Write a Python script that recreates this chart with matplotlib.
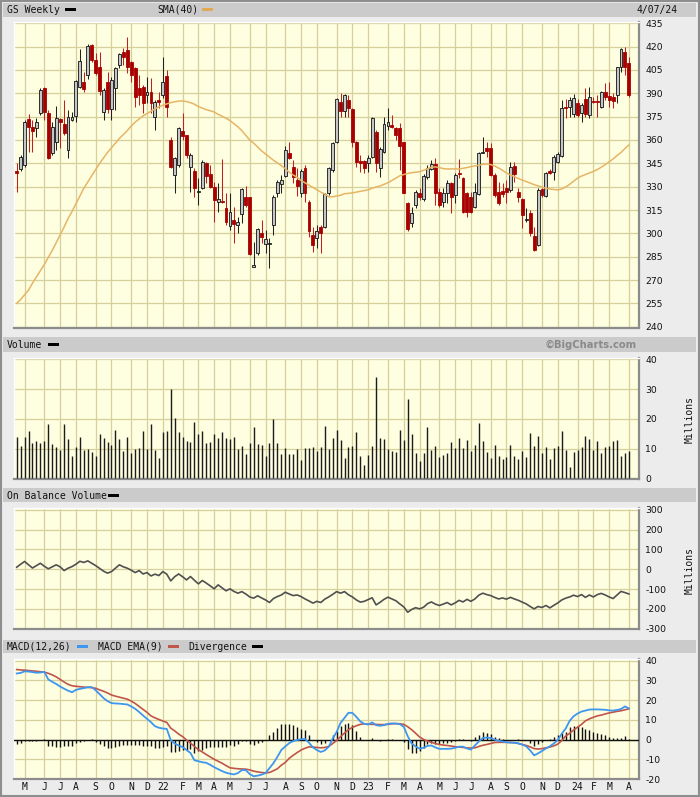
import numpy as np
import pandas as pd
import matplotlib
matplotlib.use("Agg")
import matplotlib.pyplot as plt
from matplotlib.patches import Rectangle

plt.rcParams["axes.unicode_minus"] = False

# ---------------- data ----------------
first_week = "2021-04-12"
opens = [340.3, 341.4, 343.9, 373.7, 368.1, 367.5, 377.6, 393.2, 377.6, 351.9,
         358.9, 373.3, 370.3, 353.6, 372.9, 375.4, 394.3, 397.0, 401.8, 421.1,
         411.4, 407.1, 378.2, 397.5, 379.7, 393.2, 408.2, 416.8, 417.9, 410.4,
         406.1, 393.2, 394.3, 388.9, 391.1, 375.0, 385.7, 388.9, 401.1, 360.0,
         337.5, 343.9, 366.0, 363.2, 342.9, 340.3, 326.8, 329.0, 345.4, 338.1,
         330.0, 320.4, 320.4, 316.1, 304.7, 308.6, 305.4, 312.2, 323.6, 323.1,
         278.6, 287.1, 300.4, 293.1, 293.1, 305.4, 325.7, 331.7, 336.9, 351.4,
         342.9, 334.3, 325.7, 342.2, 320.4, 298.9, 296.8, 304.3, 303.9, 325.7,
         340.7, 358.9, 384.6, 378.9, 385.7, 379.7, 358.9, 346.7, 346.7, 345.4,
         349.3, 365.4, 341.8, 352.5, 369.0, 369.6, 367.5, 367.9, 358.5, 319.3,
         306.4, 318.2, 326.1, 321.9, 336.0, 341.4, 344.6, 326.8, 320.4, 325.7,
         332.1, 324.6, 339.0, 335.4, 326.1, 323.6, 317.1, 325.3, 351.9, 354.9,
         354.6, 337.5, 326.8, 327.4, 328.9, 327.9, 343.0, 326.8, 321.9, 308.6,
         313.3, 298.3, 292.5, 328.3, 324.0, 340.3, 339.2, 346.1, 349.7, 381.4,
         381.0, 376.7, 384.0, 377.6, 386.1, 376.1, 385.1, 385.1, 381.0, 391.1,
         388.3, 387.4, 388.9, 407.1, 416.8, 409.7]
highs = [345.0, 350.4, 372.9, 376.5, 372.9, 374.0, 393.2, 394.3, 379.3, 371.8,
         381.9, 373.9, 385.7, 379.3, 378.2, 398.6, 418.3, 404.0, 421.7, 421.7,
         415.7, 416.8, 393.2, 403.9, 400.7, 407.1, 416.1, 418.9, 426.4, 411.0,
         407.1, 401.8, 395.4, 400.7, 399.6, 385.7, 391.1, 413.6, 405.0, 362.1,
         349.3, 368.6, 377.1, 363.5, 351.4, 341.8, 335.4, 347.1, 346.0, 343.9,
         333.2, 332.6, 347.6, 325.7, 325.7, 317.1, 310.7, 328.9, 330.4, 323.6,
         294.6, 303.2, 308.6, 302.1, 296.8, 324.6, 334.3, 337.5, 356.1, 358.5,
         347.1, 341.8, 341.4, 343.9, 321.4, 304.3, 305.4, 305.4, 325.7, 342.9,
         358.9, 386.8, 390.0, 389.6, 388.9, 380.4, 359.2, 350.4, 347.1, 350.4,
         375.0, 366.4, 355.7, 375.0, 380.4, 376.1, 368.6, 370.7, 358.8, 320.4,
         317.1, 327.9, 328.9, 338.1, 343.9, 347.1, 348.2, 328.9, 328.9, 334.3,
         333.2, 338.6, 347.6, 336.4, 326.8, 326.8, 332.6, 352.5, 361.7, 358.9,
         357.9, 338.6, 333.2, 332.1, 334.3, 346.1, 346.0, 328.9, 322.5, 316.1,
         315.0, 303.9, 328.9, 328.9, 339.6, 341.1, 350.4, 352.5, 385.7, 386.1,
         387.9, 389.6, 386.1, 383.6, 393.2, 394.3, 387.9, 388.9, 391.7, 396.4,
         397.5, 390.0, 407.1, 418.9, 419.6, 413.6]
lows = [326.8, 340.3, 342.9, 352.5, 352.5, 361.7, 376.1, 372.9, 347.5, 350.4,
        353.6, 355.1, 363.2, 348.2, 372.2, 371.8, 393.2, 391.0, 399.0, 410.4,
        401.8, 388.9, 372.9, 377.1, 372.9, 379.3, 406.1, 408.2, 402.9, 397.5,
        381.4, 382.5, 377.1, 383.6, 377.1, 366.4, 380.4, 386.8, 375.0, 341.8,
        325.7, 342.9, 360.0, 348.2, 326.8, 323.6, 318.2, 328.5, 332.1, 329.0,
        307.5, 313.9, 319.3, 305.4, 302.1, 293.6, 300.0, 306.4, 317.1, 286.1,
        278.1, 286.1, 294.0, 287.1, 277.5, 298.9, 323.1, 326.1, 336.4, 348.0,
        332.1, 324.0, 323.1, 320.4, 297.9, 288.2, 290.3, 287.1, 303.2, 324.6,
        339.6, 357.9, 375.0, 375.0, 375.0, 355.7, 342.9, 339.6, 339.0, 339.6,
        348.2, 339.6, 336.0, 351.9, 366.4, 367.5, 360.0, 340.7, 325.7, 301.7,
        304.3, 316.1, 321.4, 321.0, 334.7, 340.8, 318.2, 317.1, 317.1, 319.7,
        313.3, 319.3, 335.4, 312.9, 310.7, 312.9, 316.1, 324.6, 351.4, 349.3,
        336.9, 323.6, 318.2, 323.6, 319.3, 326.8, 333.0, 320.4, 303.2, 307.5,
        298.3, 288.9, 291.9, 323.6, 323.6, 337.9, 334.3, 345.0, 348.9, 373.9,
        375.0, 374.6, 374.6, 371.8, 375.0, 373.9, 383.6, 375.0, 380.4, 385.7,
        381.0, 380.4, 383.6, 403.9, 401.8, 387.4]
closes = [339.0, 348.9, 371.4, 368.6, 366.0, 371.8, 392.1, 378.2, 348.2, 368.6,
          373.9, 371.8, 364.3, 374.6, 375.0, 398.1, 411.0, 393.0, 420.4, 411.4,
          402.9, 391.7, 392.1, 379.7, 398.6, 406.1, 415.1, 413.6, 407.1, 401.8,
          387.9, 388.9, 383.6, 391.1, 383.6, 384.6, 384.6, 397.5, 381.0, 342.9,
          348.2, 367.5, 362.6, 350.4, 350.4, 329.0, 327.4, 346.1, 336.9, 329.6,
          321.4, 321.9, 319.9, 307.5, 313.5, 306.0, 307.1, 328.5, 318.2, 286.7,
          279.4, 302.6, 297.9, 296.1, 293.6, 323.6, 332.8, 334.3, 353.6, 348.2,
          336.4, 330.6, 340.3, 326.1, 301.7, 292.5, 301.5, 300.0, 325.3, 341.8,
          357.9, 386.1, 378.9, 388.7, 380.4, 358.9, 346.1, 345.4, 341.8, 348.2,
          374.4, 345.4, 354.0, 370.1, 371.8, 368.6, 363.2, 356.4, 326.1, 302.6,
          312.9, 326.8, 323.6, 336.9, 341.8, 344.6, 326.1, 318.2, 325.7, 332.1,
          323.1, 337.5, 338.1, 313.9, 313.9, 313.9, 326.8, 351.4, 352.5, 353.1,
          337.5, 324.6, 319.3, 325.3, 326.8, 342.9, 338.0, 323.6, 311.8, 309.2,
          300.0, 289.3, 327.9, 324.6, 339.0, 339.0, 349.3, 350.8, 380.4, 380.4,
          385.7, 386.8, 376.1, 382.5, 376.7, 387.9, 384.4, 384.4, 391.1, 387.4,
          385.7, 385.3, 406.7, 418.3, 407.1, 388.9]
volume_m = [13.8, 10.9, 13.8, 15.9, 11.8, 12.5, 11.8, 12.5, 18.3, 11.4,
            10.4, 9.5, 18.3, 13.1, 7.5, 10.4, 13.8, 9.5, 9.9, 8.7,
            7.5, 14.8, 13.4, 12.1, 11.2, 16.2, 13.1, 9.2, 14.0, 8.4,
            9.9, 10.1, 16.0, 9.9, 18.3, 9.5, 6.8, 15.7, 16.0, 29.9,
            20.2, 15.4, 13.8, 12.5, 12.1, 18.9, 15.0, 16.0, 11.8, 12.1,
            15.0, 13.4, 15.4, 13.4, 13.1, 13.8, 9.9, 10.9, 8.2, 11.8,
            17.4, 11.4, 11.1, 7.5, 11.8, 19.9, 11.8, 8.2, 10.1, 8.2,
            8.2, 9.9, 6.2, 10.1, 10.1, 10.4, 9.2, 10.4, 17.7, 9.9,
            13.4, 16.2, 12.9, 6.8, 10.4, 10.9, 15.5, 7.5, 4.4, 7.8,
            10.9, 33.9, 13.4, 13.1, 9.9, 9.2, 8.7, 16.1, 12.9, 26.6,
            14.8, 8.4, 5.9, 8.4, 17.4, 9.5, 10.9, 7.2, 7.8, 8.4,
            12.1, 10.2, 13.4, 10.2, 12.9, 9.2, 11.2, 18.7, 12.5, 8.9,
            6.8, 11.1, 7.5, 6.6, 7.2, 11.1, 7.5, 6.6, 9.2, 7.2,
            15.1, 10.9, 14.2, 8.5, 10.4, 6.6, 10.2, 10.9, 15.8, 9.5,
            3.9, 8.9, 9.5, 10.4, 14.1, 13.2, 9.5, 12.4, 8.5, 10.5,
            10.9, 12.4, 12.8, 7.5, 8.5, 9.2]
obv_m = [10, 25, 39, 22, 6, 18, 30, 15, 2, 12,
         22, 12, -7, 5, 13, 25, 40, 34, 42, 30,
         18, 4, -10, -20, -12, 5, 22, 12, 5, -5,
         -17, -7, -24, -17, -34, -25, -32, -12, -25, -59,
         -38, -24, -38, -54, -37, -56, -74, -57, -70, -84,
         -99, -79, -94, -109, -99, -112, -121, -113, -125, -140,
         -146, -134, -145, -155, -168, -148, -138, -130, -116, -125,
         -133, -130, -138, -150, -160, -171, -162, -168, -151, -140,
         -127, -113, -121, -113, -129, -140, -155, -166, -162, -153,
         -144, -180, -167, -152, -141, -150, -159, -175, -190, -217,
         -203, -194, -200, -192, -174, -165, -176, -183, -176, -168,
         -180, -170, -157, -165, -152, -162, -150, -131, -121, -128,
         -133, -142, -150, -145, -151, -142, -150, -157, -166, -175,
         -188, -200, -188, -193, -183, -195, -182, -170, -155, -146,
         -140, -131, -138, -128, -142, -130, -140, -128, -122, -130,
         -140, -148, -130, -112, -118, -125]
sma40 = [255.0, 257.5, 260.5, 263.5, 268.0, 272.0, 276.0, 280.0, 284.5, 289.0,
         294.0, 299.0, 304.0, 309.5, 314.0, 319.0, 324.0, 329.0, 333.0, 337.0,
         341.0, 345.0, 348.5, 352.0, 355.0, 358.0, 361.0, 363.5, 366.0, 369.0,
         371.5, 373.5, 375.5, 377.0, 378.5, 380.0, 381.3, 382.3, 383.2, 384.0,
         384.6, 385.0, 385.1, 384.7, 384.0, 383.0, 381.5, 380.5, 379.5, 378.8,
         378.0, 376.5, 375.3, 374.0, 372.5, 370.5, 368.5, 366.0, 363.0, 360.0,
         358.0, 355.5, 353.0, 351.0, 349.0, 347.0, 345.3, 343.5, 341.5, 339.3,
         337.5, 336.0, 334.0, 332.5, 331.0, 329.5, 328.0, 326.5, 325.3, 323.5,
         323.5, 324.0, 324.5, 325.5, 325.7, 326.0, 326.5, 327.0, 327.5, 328.0,
         329.0, 329.8, 330.5, 331.5, 332.5, 334.0, 335.5, 337.0, 337.8, 338.5,
         339.0, 339.3, 339.6, 340.5, 341.5, 342.5, 342.7, 342.3, 341.6, 341.4,
         341.4, 341.4, 341.4, 341.8, 342.3, 342.9, 343.3, 343.8, 344.3, 344.6,
         344.2, 343.3, 342.0, 340.5, 338.8, 337.5, 336.5, 335.3, 334.2, 333.3,
         332.3, 331.3, 330.5, 329.8, 329.0, 328.5, 328.2, 327.9, 328.5, 329.8,
         331.5, 333.5, 335.5, 336.8, 337.8, 338.8, 339.8, 341.0, 342.5, 344.2,
         346.0, 347.8, 350.0, 352.0, 354.5, 356.8]
macd_line = [33.5, 33.8, 34.6, 34.5, 34.2, 33.9, 34.0, 34.3, 30.5, 29.3,
             28.2, 26.9, 25.8, 24.8, 24.0, 25.2, 25.7, 26.1, 26.5, 26.6,
             25.0, 23.0, 21.0, 19.5, 18.5, 18.3, 18.2, 18.0, 17.8, 16.8,
             15.6, 14.0, 12.2, 10.5, 8.8, 6.8, 6.0, 5.6, 5.4, -0.3,
             -2.0, -3.0, -3.8, -5.3, -6.8, -10.5, -11.0, -11.5, -11.8, -12.8,
             -14.0, -15.0, -16.0, -16.8, -17.3, -17.7, -17.0, -15.5, -15.5, -17.5,
             -18.6, -18.3, -17.8, -17.0, -14.5, -12.0, -8.8, -5.3, -3.5, -1.8,
             -0.8, -0.2, 0.2, 0.3, -1.6, -4.0, -5.3, -6.3, -5.5, -3.7,
             0.5, 3.8, 8.5, 11.0, 13.6, 13.5, 11.5, 9.2, 8.0, 7.6,
             8.7, 7.3, 7.0, 7.3, 8.0, 8.2, 8.1, 7.8, 6.5, 1.7,
             -2.0, -3.5, -4.6, -4.2, -3.2, -3.0, -4.0, -4.7, -4.7, -4.7,
             -4.6, -4.2, -3.6, -3.6, -4.5, -5.1, -3.0, -1.0, 0.8, 1.0,
             0.8, 0.0, -0.6, -1.0, -1.4, -1.5, -1.6, -1.9, -2.6, -3.4,
             -5.5, -8.0, -7.0, -5.8, -4.5, -3.4, -2.0, -0.2, 3.0, 5.6,
             9.5, 11.8, 13.2, 14.2, 14.7, 15.2, 15.3, 15.3, 15.2, 15.1,
             14.8, 14.7, 15.0, 15.5, 16.8, 15.8]
macd_signal = [35.5, 35.3, 35.2, 35.0, 34.8, 34.6, 34.4, 34.2, 33.6, 32.8,
               31.8, 30.5, 29.2, 28.0, 27.3, 27.0, 26.8, 26.6, 26.5, 26.3,
               26.0, 25.2, 24.5, 23.6, 22.6, 22.0, 21.5, 21.0, 20.5, 19.5,
               18.3, 16.8, 15.3, 13.8, 12.0, 11.0, 10.2, 9.4, 8.7, 5.8,
               4.4, 2.8, 1.5, -0.2, -1.8, -3.5, -5.1, -6.3, -7.6, -8.8,
               -10.0, -11.0, -12.0, -13.2, -14.3, -14.6, -14.8, -14.9, -15.0, -15.4,
               -16.0, -16.4, -16.7, -16.9, -16.7, -15.8, -14.8, -13.0, -11.6, -9.5,
               -8.0, -6.6, -5.3, -4.4, -3.7, -3.8, -4.0, -4.2, -4.0, -3.5,
               -2.0, -0.5, 1.5, 3.3, 5.0, 6.2, 7.0, 7.7, 8.0, 7.8,
               7.7, 7.7, 7.6, 7.6, 7.7, 8.0, 8.1, 8.0, 7.7, 6.5,
               5.0, 3.2, 1.3, 0.1, -0.8, -1.4, -2.0, -2.5, -2.8, -3.0,
               -3.3, -3.6, -3.8, -4.0, -4.2, -4.3, -4.2, -3.5, -2.9, -2.5,
               -2.0, -1.5, -1.4, -1.4, -1.4, -1.5, -1.6, -2.0, -2.5, -3.0,
               -3.7, -4.6, -4.8, -4.6, -4.2, -3.8, -3.2, -2.3, -0.5, 1.8,
               3.2, 4.8, 6.3, 7.7, 9.5, 10.5, 11.3, 12.0, 12.4, 13.0,
               13.5, 13.9, 14.3, 14.6, 15.1, 15.6]

price_ticks = list(range(240, 436, 15))
volume_ticks = [0, 10, 20, 30, 40]
obv_ticks = [-300, -200, -100, 0, 100, 200, 300]
macd_ticks = [-20, -10, 0, 10, 20, 30, 40]
title_text = "GS Weekly"
sma_text = "SMA(40)"
date_text = "4/07/24"

# ---------------- derived ----------------
n = len(closes)
start = pd.Timestamp(first_week)
weeks = pd.date_range(start, periods=n, freq="7D")
x = np.arange(n)
o = np.array(opens); c = np.array(closes)
hi = np.array(highs); lo = np.array(lows)
up = c >= o
months = pd.date_range(weeks[0] + pd.offsets.MonthBegin(1), weeks[-1], freq="MS")
month_pos = [(m - start).days // 7 for m in months]
month_lab = [m.strftime("%y") if m.month == 1 else m.strftime("%b")[0] for m in months]
hist = np.array(macd_line) - np.array(macd_signal)

# ---------------- figure ----------------
W, H = 700, 797
fig = plt.figure(figsize=(W / 100, H / 100), dpi=100)
fig.patch.set_facecolor("#ececec")
bg = fig.add_axes([0, 0, 1, 1], zorder=-5)
bg.set_xlim(0, W); bg.set_ylim(H, 0); bg.axis("off")

MONO = "DejaVu Sans Mono"
RED = "#a80000"

# header bars
for (y0, h) in [(3.3, 13.4), (337.3, 14.4), (488.3, 13.4), (640.0, 12.7)]:
    bg.add_patch(Rectangle((3, y0), 693, h, fc="#cbcbcb", ec="none"))
bg.add_patch(Rectangle((0.8, 0.8), W - 1.6, H - 1.6, fc="none", ec="#8e8e8e", lw=1.5))

def label(xp, yp, s, **kw):
    bg.text(xp, yp, s, va="center", ha=kw.pop("ha", "left"), fontsize=kw.pop("fs", 7),
            family=kw.pop("family", MONO), color=kw.pop("color", "#111111"), **kw)

def swatch(xp, yp, color):
    bg.add_patch(Rectangle((xp, yp - 1.3), 11, 2.8, fc=color, ec="none"))

label(7, 9.8, title_text); swatch(65, 9.3, "#000000")
label(157, 9.8, sma_text); swatch(202, 9.3, "#e2a954")
label(678, 9.8, date_text, ha="right")
label(7, 344.8, "Volume"); swatch(48, 344.3, "#000000")
label(637, 344.8, "\u00a9BigCharts.com", ha="right", family="DejaVu Sans",
      fontweight="bold", color="#8a8a8a", fs=7.2)
label(7, 495.5, "On Balance Volume"); swatch(108, 495.0, "#000000")
label(7, 646.5, "MACD(12,26)"); swatch(77, 646.0, "#3d96f0")
label(98, 646.5, "MACD EMA(9)"); swatch(168, 646.0, "#c0554a")
label(188, 646.5, "Divergence"); swatch(252, 646.0, "#000000")
label(690, 419, "Millions", ha="center", rotation=90)
label(690, 570, "Millions", ha="center", rotation=90)

def panel(top, bottom, ylim, ticks):
    ax = fig.add_axes([14 / W, 1 - bottom / H, (638.5 - 14) / W, (bottom - top) / H])
    ax.set_facecolor("#fefee0")
    ax.set_xlim(-0.68, n - 1 + 2.43)
    ax.set_ylim(*ylim)
    ax.set_xticks(month_pos)
    ax.set_yticks(ticks)
    ax.yaxis.tick_right()
    ax.tick_params(axis="y", length=0, pad=5, labelsize=6.7, labelcolor="#111111")
    ax.tick_params(axis="x", length=0, labelbottom=False)
    ax.grid(True, color="#d6d19c", lw=0.9)
    ax.set_axisbelow(True)
    for s in ["top", "left"]:
        ax.spines[s].set_color("#ffffff"); ax.spines[s].set_linewidth(1.0)
    for s in ["bottom", "right"]:
        ax.spines[s].set_color("#8c8c8c"); ax.spines[s].set_linewidth(1.6)
    return ax

# price panel
ax = panel(22, 327.5, (239.49, 435.84), price_ticks)
edge = np.where(up, "#111111", RED)
ax.vlines(x, lo, hi, colors=np.where(up, "#222222", "#c02020"), lw=0.75, zorder=3)
bottoms = np.minimum(o, c)
heights = np.maximum(np.abs(c - o), 0.7)
ax.bar(x, heights, bottom=bottoms, width=0.74, color=np.where(up, "#c6c6c6", RED),
       edgecolor=edge, linewidth=0.6, zorder=4)
ax.plot(x, sma40, color="#e6b566", lw=1.1, zorder=5)

# volume panel
axv = panel(358.3, 479, (-0.24, 40.34), volume_ticks)
axv.vlines(x, 0, volume_m, colors="#1c1c1c", lw=1.0, zorder=3)

# OBV panel
axo = panel(508.3, 629, (-301.5, 307), obv_ticks)
axo.plot(x, obv_m, color="#505050", lw=1.2, zorder=3)

# MACD panel
axm = panel(659.3, 779.3, (-20.15, 40.7), macd_ticks)
axm.vlines(x, 0, hist, colors="#111111", lw=1.0, zorder=3)
axm.axhline(0, color="#111111", lw=1.0, zorder=3)
axm.plot(x, macd_signal, color="#c0554a", lw=1.2, zorder=4)
axm.plot(x, macd_line, color="#3d96f0", lw=1.3, zorder=5)
axm.set_xticklabels(month_lab, family=MONO, fontsize=7)
axm.tick_params(axis="x", labelbottom=True, pad=2.2, labelcolor="#111111")

fig.savefig("out.png", dpi=100, facecolor=fig.get_facecolor())
